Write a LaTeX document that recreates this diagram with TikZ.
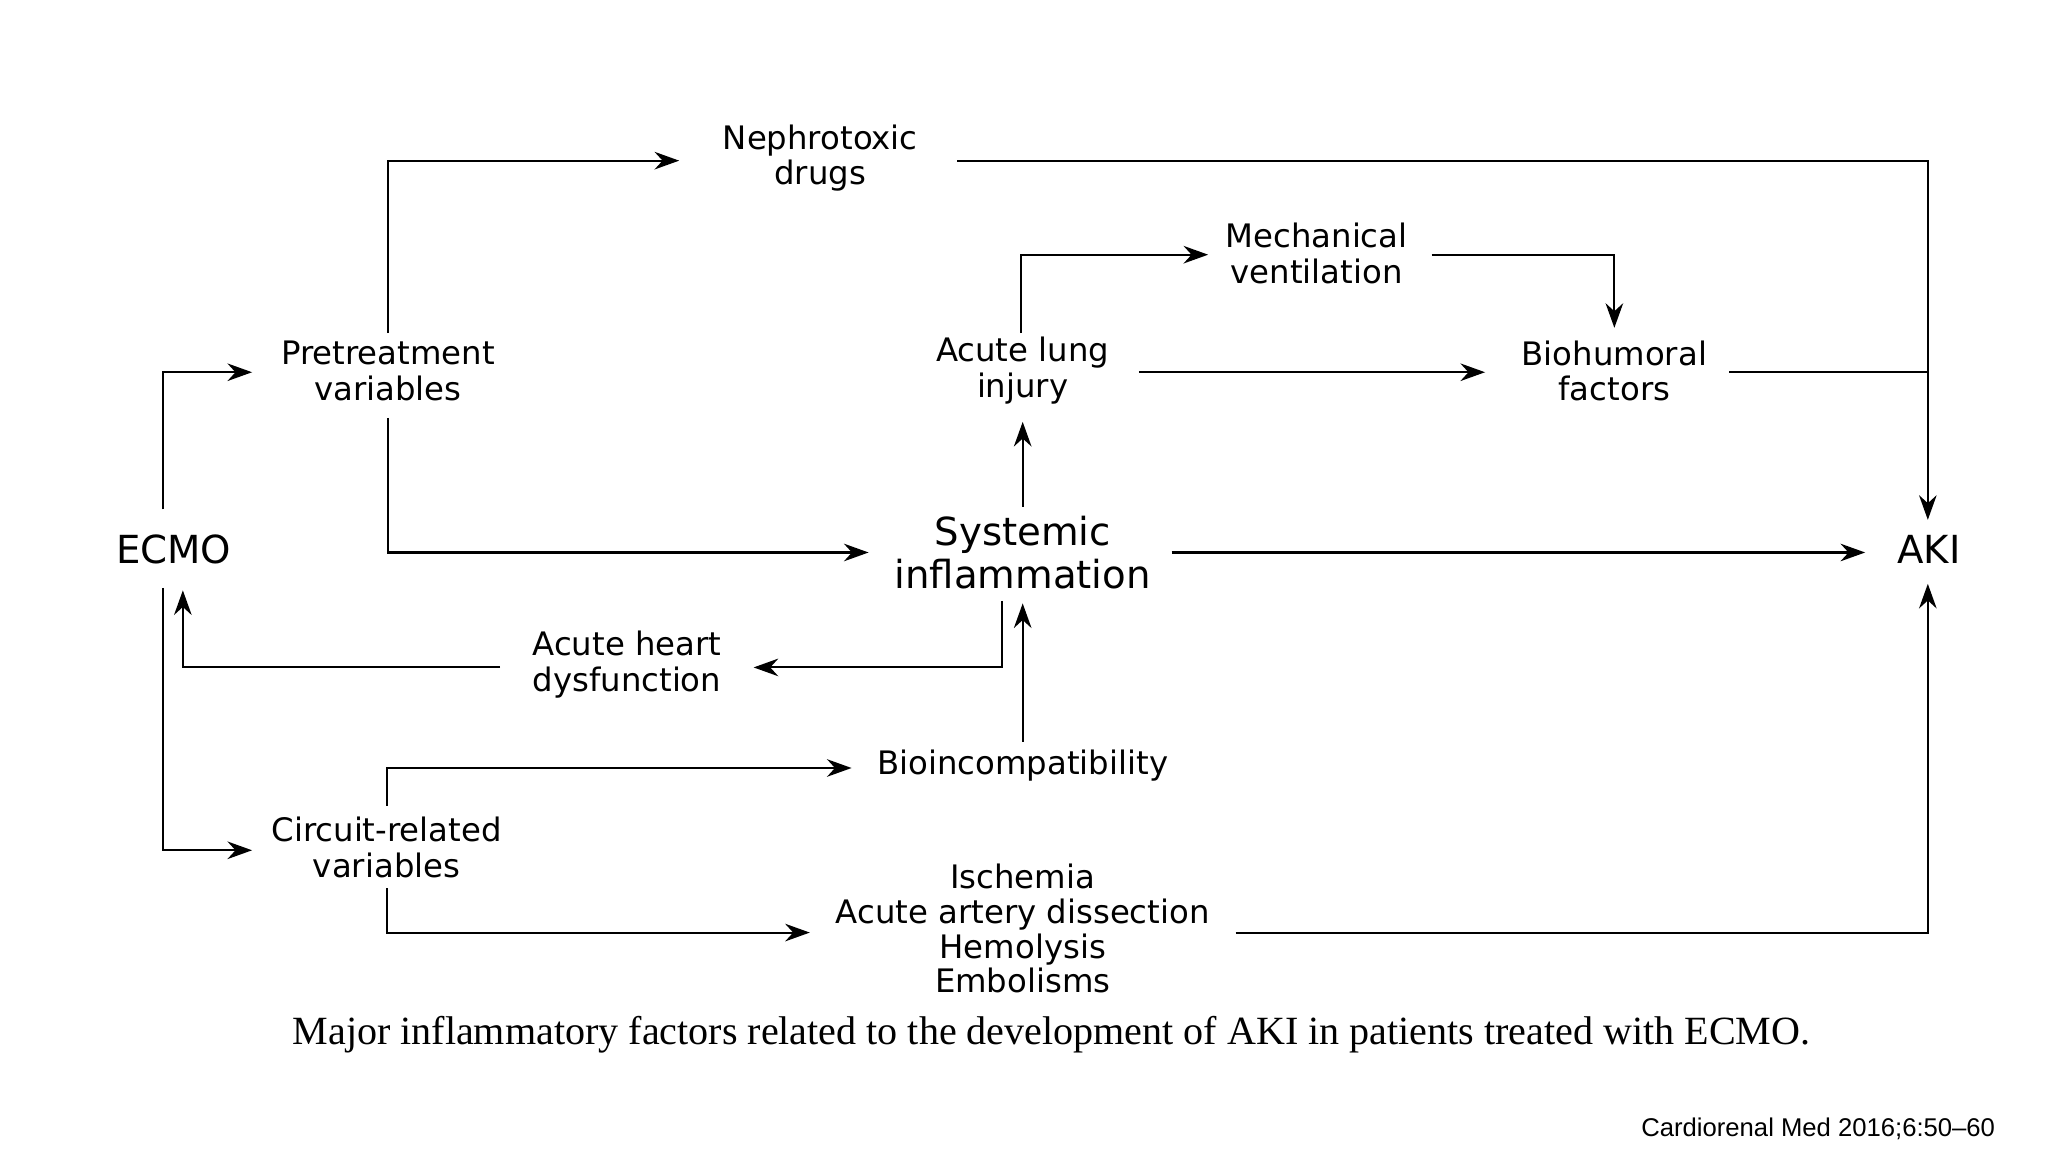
\documentclass[tikz,border=0pt]{standalone}
\usepackage{fontspec}
\setmainfont{DejaVu Sans}
\newfontfamily\capfont{Liberation Serif}
\newfontfamily\credfont{Liberation Sans}
\usetikzlibrary{arrows.meta}
\begin{document}
\begin{tikzpicture}[x=0.013061cm,y=-0.013061cm,
  lbl/.style={align=center,font=\fontsize{9.2}{10.2}\selectfont,inner sep=2pt},
  big/.style={align=center,font=\fontsize{11}{12.2}\selectfont,inner sep=2pt},
  arr/.style={-{Stealth[length=7pt,width=5pt]},line width=0.6pt},
  ln/.style={line width=0.6pt}]
\useasboundingbox (0,0) rectangle (1568,882);
\node[big] (ecmo) at (133,421) {ECMO};
\node[lbl] (pre) at (297,284) {Pretreatment\\variables};
\node[lbl] (neph) at (628,121) {Nephrotoxic\\drugs};
\node[lbl] (mech) at (1008,194) {Mechanical\\ventilation};
\node[lbl] (lung) at (783,284) {Acute lung\\injury};
\node[lbl] (bio) at (1236,284) {Biohumoral\\factors};
\node[big] (sys) at (783,423) {Systemic\\inflammation};
\node[big] (aki) at (1477,421) {AKI};
\node[lbl] (heart) at (480,509) {Acute heart\\dysfunction};
\node[lbl] (bioinc) at (783,586) {Bioincompatibility};
\node[lbl] (circ) at (296,649) {Circuit-related\\variables};
\node[lbl,font=\fontsize{9.2}{9.9}\selectfont] (isch) at (783,711) {Ischemia\\Acute artery dissection\\Hemolysis\\Embolisms};
\node[font=\capfont\fontsize{11.4}{13}\selectfont] (cap) at (805,792) {Major inflammatory factors related to the development of AKI in patients treated with ECMO.};
\node[font=\credfont\fontsize{7.3}{8.5}\selectfont,anchor=east] (cred) at (1537,864) {Cardiorenal Med 2016;6:50–60};

\coordinate (e1) at (125,390); \coordinate (e2) at (125,450);
\coordinate (j) at (1476,285);
\draw[arr] (e1) |- (193,285) coordinate (preW);
\draw[arr] (e2) |- (193,651) coordinate (circW);
\draw[arr] (383,511) -| (140,452);
\draw[arr] (297,255) |- (520,123);
\draw[arr] (297,320) |- (665,423);
\draw[arr] (733,123) -| (1476,398);
\draw[ln] (1324,285) -- (j);
\draw[arr] (782,255) |- (925,195);
\draw[arr] (1096,195) -| (1236,251);
\draw[arr] (872,285) -- (1137,285);
\draw[arr] (783,388) -- (783,323);
\draw[arr] (897,423) -- (1428,423);
\draw[arr] (767,460) |- (577,511);
\draw[arr] (783,568) -- (783,462);
\draw[arr] (296,617) |- (652,588);
\draw[arr] (296,680) |- (620,714);
\draw[arr] (946,714) -| (1476,447);
\end{tikzpicture}
\end{document}
